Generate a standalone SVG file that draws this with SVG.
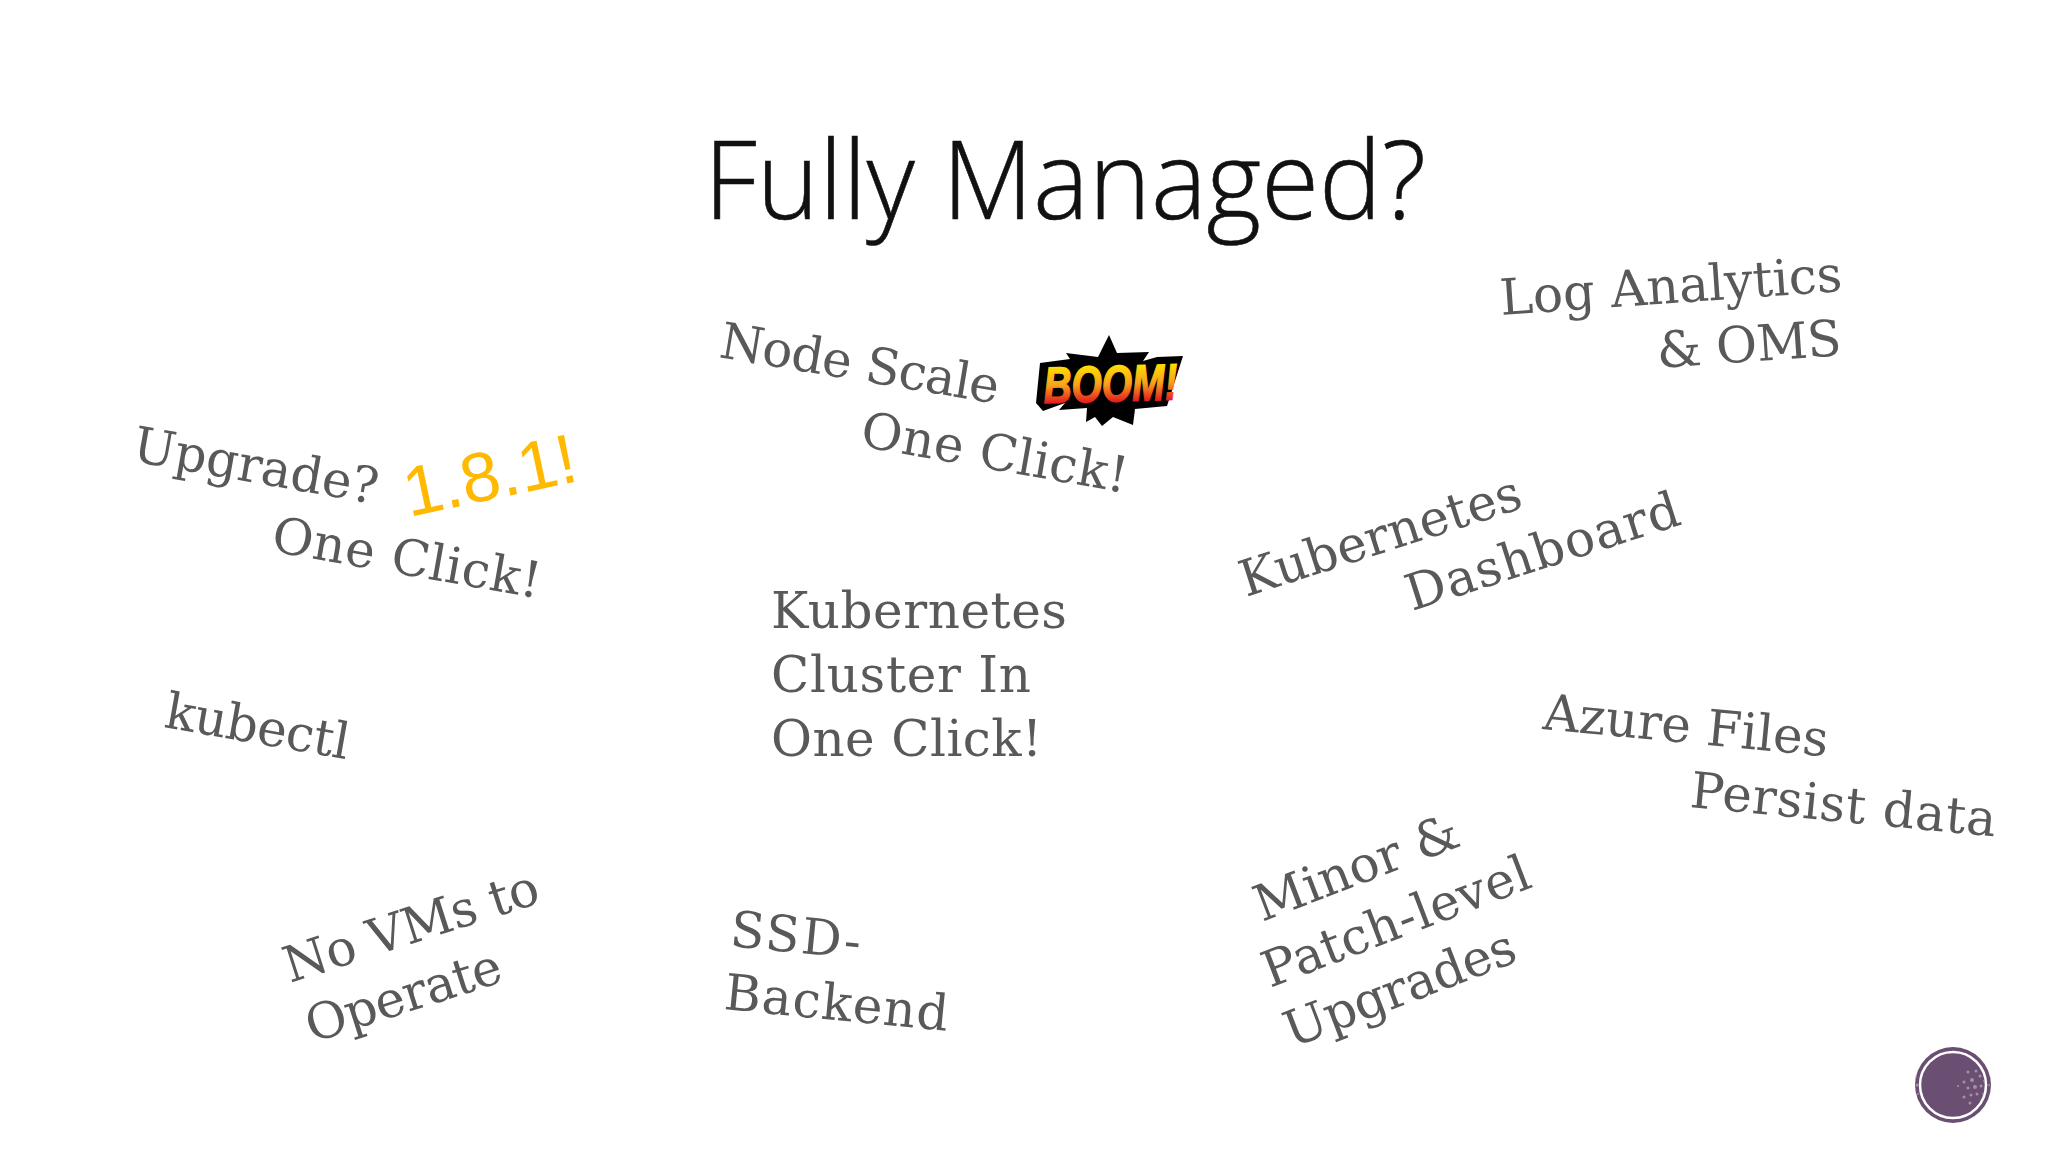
<svg xmlns="http://www.w3.org/2000/svg" width="2048" height="1152" viewBox="0 0 2048 1152">
<defs>
<linearGradient id="boom" gradientUnits="userSpaceOnUse" x1="0" y1="-38" x2="0" y2="0"><stop offset="0" stop-color="#ffe600"/><stop offset="0.55" stop-color="#f9a01b"/><stop offset="1" stop-color="#e51f1f"/></linearGradient>
</defs>
<style>
.t{font-family:"DejaVu Serif","Liberation Serif",serif;font-size:50px;fill:#595959}
.title{font-family:"Open Sans","Noto Sans",sans-serif;font-weight:300;font-size:108px;fill:#111;stroke:#111;stroke-width:.6}
.ver{font-family:"Liberation Sans",Arial,sans-serif;font-size:70px;fill:#ffb900}
.bm{font-family:"Liberation Sans",Arial,sans-serif;font-weight:700;font-style:italic;font-size:51px;fill:url(#boom);stroke:url(#boom);stroke-width:1.5}
.sp{fill:#b9a6bd;opacity:.75}
</style>
<rect width="2048" height="1152" fill="#fff"/>
<g id="title"><text class="title" x="704" y="219" textLength="722" lengthAdjust="spacingAndGlyphs">Fully Managed?</text></g>
<g id="upgrade">
<text class="t" transform="translate(131,461) rotate(10)" textLength="248">Upgrade?</text>
<text class="t" transform="translate(270,551) rotate(10)" textLength="272">One Click!</text>
<text class="ver" transform="translate(409,517) rotate(-12)">1.8.1!</text>
</g>
<g id="node-scale">
<text class="t" transform="translate(718,357) rotate(9.5)" textLength="282">Node Scale</text>
<text class="t" transform="translate(859,446) rotate(10)" textLength="270">One Click!</text>
</g>
<g id="boom-icon">
<path fill="#000" d="M1109 335L1117 353 1149 352 1143 361 1157 357 1183 356 1168 403 1167 406 1135 409 1133 425 1113 417 1102 426 1095 417 1086 422 1087 408 1059 410 1065 403 1043 411 1036 403 1040 363 1070 359 1066 353 1098 357Z"/>
<text class="bm" transform="translate(1044,403) rotate(-1.5)" textLength="134" lengthAdjust="spacingAndGlyphs">BOOM!</text>
</g>
<g id="log-analytics">
<text class="t" transform="translate(1501,315) rotate(-4)" textLength="343">Log Analytics</text>
<text class="t" transform="translate(1658,368) rotate(-4)" textLength="185">&amp; OMS</text>
</g>
<g id="dashboard">
<text class="t" transform="translate(1246,597) rotate(-17.8)" textLength="293">Kubernetes</text>
<text class="t" transform="translate(1412,611) rotate(-17.8)" textLength="285">Dashboard</text>
</g>
<g id="cluster">
<text class="t" x="771" y="628" textLength="296">Kubernetes</text>
<text class="t" x="771" y="692" textLength="260">Cluster In</text>
<text class="t" x="771" y="756" textLength="271">One Click!</text>
</g>
<g id="kubectl"><text class="t" transform="translate(163,727) rotate(10)" textLength="186">kubectl</text></g>
<g id="azure">
<text class="t" transform="translate(1542,729) rotate(5.5)" textLength="286">Azure Files</text>
<text class="t" transform="translate(1689,807) rotate(5.5)" textLength="307">Persist data</text>
</g>
<g id="no-vms">
<text class="t" transform="translate(290,983) rotate(-17.8)" textLength="265">No VMs to</text>
<text class="t" transform="translate(312,1043) rotate(-17.8)" textLength="203">Operate</text>
</g>
<g id="ssd">
<text class="t" transform="translate(729,946) rotate(5.6)" textLength="131">SSD-</text>
<text class="t" transform="translate(723,1009) rotate(5.6)" textLength="225">Backend</text>
</g>
<g id="minor">
<text class="t" transform="translate(1262,922) rotate(-21)" textLength="215">Minor &amp;</text>
<text class="t" transform="translate(1270,988) rotate(-21)" textLength="283">Patch-level</text>
<text class="t" transform="translate(1292,1048) rotate(-21)" textLength="244">Upgrades</text>
</g>
<g id="badge">
<circle cx="1953" cy="1085" r="38" fill="#6a4f72"/>
<circle cx="1953" cy="1085" r="33" fill="none" stroke="#fff" stroke-width="2.5"/>
<g class="sp">
<circle cx="1964" cy="1082" r="1.5"/><circle cx="1968" cy="1072" r="1.5"/><circle cx="1972" cy="1080" r="2"/><circle cx="1976" cy="1071" r="1.5"/><circle cx="1980" cy="1076" r="1.5"/><circle cx="1968" cy="1088" r="1.5"/><circle cx="1975" cy="1087" r="2"/><circle cx="1981" cy="1086" r="1.5"/><circle cx="1971" cy="1095" r="1.5"/><circle cx="1977" cy="1094" r="1.5"/><circle cx="1964" cy="1097" r="1.5"/><circle cx="1970" cy="1103" r="1.5"/><circle cx="1983" cy="1094" r="1"/><circle cx="1958" cy="1086" r="1"/><circle cx="1984" cy="1081" r="1"/>
<circle cx="1917" cy="1085" r="1.5"/><circle cx="1916" cy="1077" r="1"/><circle cx="1918" cy="1094" r="1"/><circle cx="1989" cy="1085" r="1"/>
</g>
</g>
</svg>
